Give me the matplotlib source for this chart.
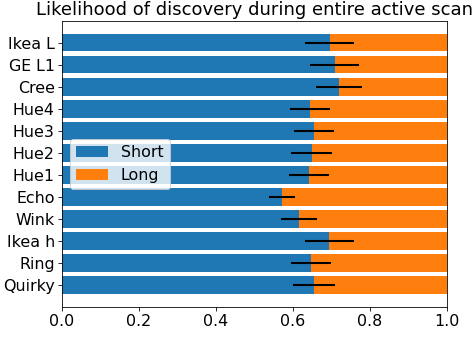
import matplotlib
matplotlib.use('Agg')
import matplotlib.pyplot as plt
import numpy as np

# Data (top to bottom)
devices = ['Ikea L', 'GE L1', 'Cree', 'Hue4', 'Hue3', 'Hue2', 'Hue1',
           'Echo', 'Wink', 'Ikea h', 'Ring', 'Quirky']
short = [0.696, 0.709, 0.721, 0.644, 0.655, 0.649, 0.642,
         0.572, 0.617, 0.695, 0.647, 0.656]
err = [0.063, 0.063, 0.060, 0.052, 0.052, 0.053, 0.051,
       0.034, 0.047, 0.063, 0.052, 0.055]
long_ = [1 - s for s in short]

fig = plt.figure(figsize=[6.4, 4.8], dpi=74)
ax = fig.add_axes([0.131, 0.135, 0.812, 0.806])

y = np.arange(len(devices))
ax.barh(y, short, height=0.8, color='#1f77b4', label='Short',
        xerr=err, error_kw=dict(ecolor='black', elinewidth=2, capsize=0))
ax.barh(y, long_, left=short, height=0.8, color='#ff7f0e', label='Long')

ax.set_yticks(y)
ax.set_yticklabels(devices)
ax.invert_yaxis()
ax.set_xlim(0, 1.0)
ax.tick_params(labelsize=15.5)

ax.set_title('Likelihood of discovery during entire active scan', fontsize=17.5)
ax.legend(loc='center left', fontsize=15.5)

fig.savefig('out.png', dpi=74)
